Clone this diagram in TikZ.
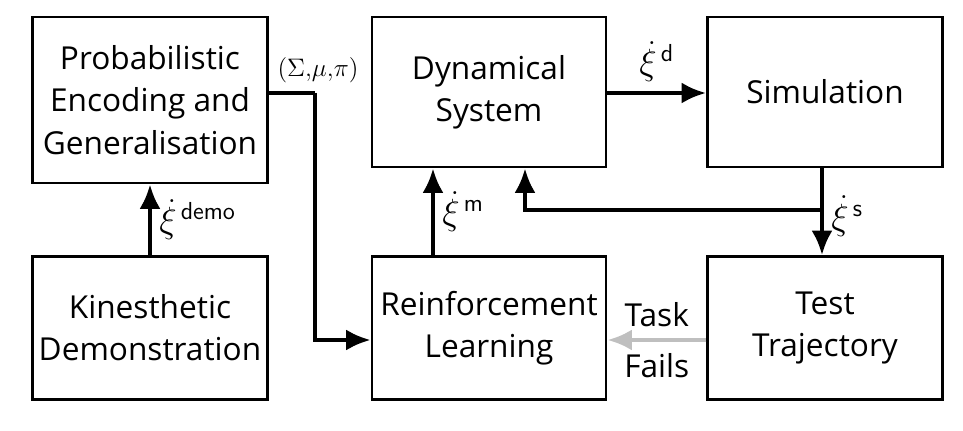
\documentclass[tikz,border=0pt]{standalone}
\usepackage{fontspec}
\setmainfont{Open Sans}
\usepackage{amsmath, amssymb}
\usetikzlibrary{arrows.meta}

\begin{document}
\begin{tikzpicture}[x=0.02cm,y=-0.02cm,
    blk/.style={draw,line width=1.4pt,align=center,inner sep=0pt,
      font=\fontsize{18}{24}\selectfont},
    flow/.style={line width=2.6pt,-{Latex[length=14pt,width=12pt]}},
    xd/.style={font=\fontsize{20}{20}\selectfont,inner sep=1pt}]
    \useasboundingbox (0,0) rectangle (963,431);
    \path
    (150,100) node[blk,minimum width=235*0.02cm,minimum height=166*0.02cm](PEG) {Probabilistic\\Encoding and\\Generalisation}
    (150,328) node[blk,minimum width=235*0.02cm,minimum height=143*0.02cm](KD) {Kinesthetic\\Demonstration}
    (489,92) node[blk,minimum width=234*0.02cm,minimum height=150*0.02cm](DS) {Dynamical\\System}
    (825,92) node[blk,minimum width=235*0.02cm,minimum height=150*0.02cm](SIM) {Simulation}
    (489,328) node[blk,minimum width=234*0.02cm,minimum height=143*0.02cm](RL) {Reinforcement\\Learning}
    (825,328) node[blk,minimum width=235*0.02cm,minimum height=143*0.02cm](TT) {Test\\Trajectory};
    
    \coordinate (A) at (315,93);
    \coordinate (B) at (315,340);
    \coordinate (J) at (822,210);
    \coordinate (K) at (525,210);
    
    \draw[flow] (KD) -- (PEG) node[xd,midway,right=3pt] {$\dot{\xi}^{\,\mathsf{demo}}$};
    \draw[flow,-] (PEG.east|-A) -- (A);
    \draw[flow] (A) -- (B) -- (RL.west|-B);
    \node[font=\fontsize{15}{15}\selectfont] (PAR) at (318,70) {$(\Sigma{,}\mathrm{\mu}{,}\mathrm{\pi})$};
    \draw[flow] (RL.north-|433,0) -- (DS.south-|433,0) node[xd,midway,right=3pt] {$\dot{\xi}^{\,\mathsf{m}}$};
    \draw[flow] (DS.east|-0,93) -- (SIM.west|-0,93) node[xd,midway,above=4pt] {$\dot{\xi}^{\,\mathsf{d}}$};
    \draw[flow] (SIM.south-|J) -- (TT.north-|J) node[xd,pos=0.55,right=3pt] {$\dot{\xi}^{\,\mathsf{s}}$};
    \draw[flow] (J) -- (K) -- (DS.south-|K);
    \draw[line width=2.6pt,gray!50,-{Latex[length=14pt,width=12pt]}] (TT.west|-0,340) -- (RL.east|-0,340)
      node[midway,above=3pt,black,font=\fontsize{18}{18}\selectfont] (TASK) {Task}
      node[midway,below=3pt,black,font=\fontsize{18}{18}\selectfont] (FAIL) {Fails};
\end{tikzpicture}
\end{document}
